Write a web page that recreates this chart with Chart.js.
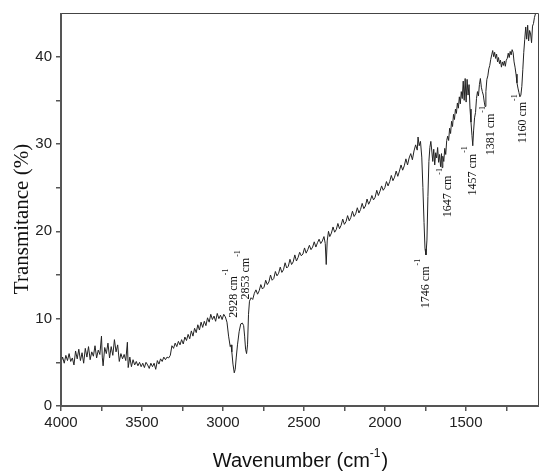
<!DOCTYPE html>
<html>
<head>
<meta charset="utf-8">
<script src="https://cdn.jsdelivr.net/npm/chart.js@4"></script>
<style>
  html, body { margin: 0; padding: 0; background: #fff; }
  #wrap { width: 550px; height: 476px; }
</style>
</head>
<body>
<div id="wrap"><canvas id="ftir"></canvas></div>
<script>
// --- spectrum (wavenumber cm-1 / transmittance %) ---
const wavenumbers = [
  4000,3990,3980,3970,3960,3950,3940,3930,3920,3910,3900,3890,3880,3870,3860,3850,3840,3830,3820,3810,
  3800,3790,3780,3770,3760,3750,3745,3740,3730,3720,3710,3700,3690,3680,3670,3660,3650,3640,3630,3620,
  3610,3600,3590,3585,3575,3565,3555,3545,3535,3525,3515,3505,3495,3485,3475,3465,3455,3445,3435,3425,
  3415,3405,3395,3385,3375,3365,3355,3345,3335,3325,3315,3305,3295,3285,3275,3265,3255,3245,3235,3225,
  3215,3205,3195,3185,3175,3165,3155,3145,3135,3125,3115,3105,3095,3085,3075,3065,3055,3045,3035,3025,
  3015,3005,2995,2985,2975,2965,2955,2950,2945,2938,2930,2924,2918,2910,2900,2890,2880,2872,2866,2860,
  2854,2848,2842,2836,2826,2816,2806,2796,2786,2776,2766,2756,2746,2736,2726,2716,2706,2696,2686,2676,
  2666,2656,2646,2636,2626,2616,2606,2596,2586,2576,2566,2556,2546,2536,2526,2516,2506,2496,2486,2476,
  2466,2456,2446,2436,2426,2416,2406,2396,2386,2376,2368,2362,2356,2348,2340,2330,2320,2310,2300,2290,
  2280,2270,2260,2250,2240,2230,2220,2210,2200,2190,2180,2170,2160,2150,2140,2130,2120,2110,2100,2090,
  2080,2070,2060,2050,2040,2030,2020,2010,2000,1990,1980,1970,1960,1950,1940,1930,1920,1910,1900,1890,
  1880,1870,1860,1850,1840,1830,1820,1810,1800,1795,1788,1780,1772,1765,1758,1752,1746,1740,1734,1728,
  1722,1716,1710,1704,1698,1692,1686,1680,1674,1668,1662,1656,1650,1647,1642,1636,1630,1624,1618,1612,
  1606,1600,1594,1588,1582,1576,1570,1564,1558,1552,1546,1540,1534,1528,1522,1516,1510,1504,1498,1492,
  1486,1480,1474,1468,1462,1457,1452,1446,1440,1434,1428,1422,1416,1410,1404,1398,1392,1386,1381,1376,
  1370,1364,1358,1352,1346,1340,1334,1328,1322,1316,1310,1304,1298,1292,1286,1280,1274,1268,1262,1256,
  1250,1244,1238,1232,1226,1220,1214,1208,1202,1196,1190,1184,1178,1172,1166,1160,1154,1148,1142,1136,
  1130,1124,1118,1112,1106,1100,1094,1088,1082,1076,1070,1064,1058,1050
];
const transmittance = [
  5.0,5.6,4.9,5.8,5.2,6.0,5.1,5.5,4.7,6.3,5.4,6.5,5.2,6.1,4.9,6.6,5.6,6.8,5.3,6.2,
  5.7,6.9,5.5,6.4,5.9,8.0,5.6,4.6,6.7,6.0,7.2,5.5,6.8,5.8,7.6,6.2,7.0,5.1,6.0,5.4,
  5.9,5.2,7.3,4.4,5.6,4.5,5.3,4.7,5.1,4.6,5.0,4.5,4.9,4.4,5.0,4.7,4.3,4.9,4.5,4.9,
  4.2,5.2,4.8,5.4,5.1,5.6,5.3,5.6,5.5,5.8,6.9,6.6,7.2,6.8,7.4,7.0,7.6,7.1,7.9,7.5,
  8.2,7.7,8.6,8.0,8.9,8.4,9.3,8.7,9.6,9.0,9.7,9.2,10.1,9.6,10.5,9.9,10.3,9.7,10.6,10.0,
  10.4,9.9,10.5,10.2,9.6,8.0,6.8,7.0,6.2,4.8,3.8,4.2,5.5,7.0,8.5,9.4,9.5,9.2,8.0,6.5,
  6.0,7.0,10.5,12.0,12.4,12.2,12.9,13.3,12.8,13.2,13.9,13.4,13.6,14.4,13.9,14.2,15.0,14.4,14.6,15.4,
  14.9,15.2,15.9,15.3,15.6,16.4,15.8,16.0,16.8,16.2,16.5,17.3,16.6,17.0,17.6,17.2,17.4,18.1,17.5,17.9,
  18.4,17.9,18.2,18.8,18.2,18.7,19.1,18.6,18.9,19.4,18.6,16.2,18.9,20.0,19.4,19.8,20.5,19.9,20.2,20.9,
  20.3,20.7,21.4,20.8,21.1,21.8,21.2,21.6,22.3,21.7,22.0,22.7,22.1,22.5,23.2,22.6,22.9,23.7,23.1,23.5,
  24.1,23.6,23.9,24.7,24.1,24.6,25.2,24.7,25.0,25.7,25.2,25.7,26.4,25.8,26.2,26.9,26.3,26.9,27.6,27.0,
  27.5,28.3,27.6,28.4,28.9,28.2,29.2,29.9,29.3,30.8,29.8,30.3,28.5,25.0,21.0,18.0,17.3,19.0,24.0,28.0,
  29.6,30.3,29.2,28.0,29.4,27.6,29.0,28.4,29.6,27.9,28.8,27.4,28.9,27.3,28.6,28.0,29.5,28.8,30.4,30.9,
  30.4,31.8,31.2,32.6,32.0,33.4,32.8,34.0,33.5,34.7,34.1,35.4,34.6,36.0,35.2,37.2,35.0,37.5,34.8,37.4,
  35.6,36.8,34.0,32.5,31.0,29.8,31.5,33.0,33.6,35.2,36.0,35.5,36.8,37.5,36.5,36.0,35.6,34.8,34.3,36.0,
  37.4,37.8,38.6,39.0,39.7,40.2,40.7,40.0,40.5,39.8,40.3,39.4,39.9,39.2,39.6,38.8,39.4,39.0,39.5,38.9,
  39.6,39.8,40.4,39.9,40.6,40.2,40.8,40.5,39.4,38.8,38.0,37.0,36.4,35.9,35.4,35.6,36.6,38.5,40.5,42.0,
  43.4,42.0,43.6,41.8,43.0,42.6,41.6,43.5,43.8,44.5,44.9,45.5,46.5,47.0
];

// axis ticks
const xTicks = [4000,3750,3500,3250,3000,2750,2500,2250,2000,1750,1500,1250];
const xLabelled = [4000,3500,3000,2500,2000,1500];
const yTicks = [0,5,10,15,20,25,30,35,40];
const yLabelled = [0,10,20,30,40];

// peak labels: text, x position (cm-1), value where text starts
const peakNames = ["2928 cm", "2853 cm", "1746 cm", "1647 cm", "1457 cm", "1381 cm", "1160 cm"];
const peakX = [2936, 2861, 1751, 1616, 1460, 1350, 1150];
const peakY = [10.1, 12.2, 11.2, 21.6, 24.1, 28.7, 30.1];

const points = wavenumbers.map((w, i) => ({ x: w, y: transmittance[i] }));

const serif = "'Liberation Serif', 'Times New Roman', serif";
const sans = "'Liberation Sans', Arial, sans-serif";

const decor = {
  id: "decor",
  afterDraw(chart) {
    const { ctx, chartArea: a, scales } = chart;
    ctx.save();
    // frame
    ctx.strokeStyle = "#444";
    ctx.lineWidth = 1;
    ctx.beginPath();
    ctx.moveTo(a.left, a.top + 0.5);
    ctx.lineTo(a.right - 0.5, a.top + 0.5);
    ctx.lineTo(a.right - 0.5, a.bottom);
    ctx.stroke();
    ctx.strokeStyle = "#555";
    ctx.lineWidth = 2;
    ctx.beginPath();
    ctx.moveTo(a.left, a.top);
    ctx.lineTo(a.left, a.bottom);
    ctx.lineTo(a.right, a.bottom);
    ctx.stroke();

    // peak labels
    ctx.fillStyle = "#111";
    peakNames.forEach((name, i) => {
      const px = scales.x.getPixelForValue(peakX[i]) + 4;
      const py = scales.y.getPixelForValue(peakY[i]);
      ctx.save();
      ctx.translate(px, py);
      ctx.rotate(-Math.PI / 2);
      ctx.font = "12px " + serif;
      ctx.fillText(name, 0, 0);
      const w = ctx.measureText(name).width;
      ctx.font = "8px " + serif;
      ctx.fillText("-1", w + 1, -9);
      ctx.restore();
    });

    // axis titles
    ctx.fillStyle = "#111";
    const t1 = "Wavenumber (cm", t2 = ")";
    ctx.font = "20px " + sans;
    const w1 = ctx.measureText(t1).width;
    const w2 = ctx.measureText(t2).width;
    ctx.font = "12px " + sans;
    const ws = ctx.measureText("-1").width;
    const start = 300 - (w1 + ws + w2) / 2;
    ctx.font = "20px " + sans;
    ctx.fillText(t1, start, 467);
    ctx.fillText(t2, start + w1 + ws + 1, 467);
    ctx.font = "12px " + sans;
    ctx.fillText("-1", start + w1, 457);

    ctx.save();
    ctx.translate(28, 219);
    ctx.rotate(-Math.PI / 2);
    ctx.textAlign = "center";
    ctx.font = "21px " + serif;
    ctx.fillText("Transmitance (%)", 0, 0);
    ctx.restore();
    ctx.restore();
  }
};

new Chart(document.getElementById("ftir"), {
  type: "line",
  data: {
    datasets: [{
      data: points,
      borderColor: "#222",
      borderWidth: 1,
      pointRadius: 0,
      tension: 0
    }]
  },
  options: {
    responsive: true,
    maintainAspectRatio: false,
    animation: false,
    layout: { padding: { top: 9, right: 11, left: 0, bottom: 0 } },
    plugins: { legend: { display: false }, tooltip: { enabled: false } },
    scales: {
      x: {
        type: "linear",
        reverse: true,
        min: 1048,
        max: 4000,
        afterBuildTicks: s => { s.ticks = xTicks.map(v => ({ value: v })); },
        afterFit: s => { s.height = 70; },
        border: { display: false },
        grid: { drawOnChartArea: false, tickLength: 5, color: "#555", lineWidth: 1.5 },
        ticks: {
          color: "#222",
          font: { size: 15, family: sans },
          padding: 3,
          maxRotation: 0,
          autoSkip: false,
          callback: v => xLabelled.includes(v) ? String(v) : ""
        }
      },
      y: {
        min: 0,
        max: 45,
        afterBuildTicks: s => { s.ticks = yTicks.map(v => ({ value: v })); },
        afterFit: s => { s.width = 61; },
        border: { display: false },
        grid: { drawOnChartArea: false, tickLength: 5, color: "#555", lineWidth: 1.5 },
        ticks: {
          color: "#222",
          font: { size: 15, family: sans },
          padding: 4,
          autoSkip: false,
          callback: v => yLabelled.includes(v) ? String(v) : ""
        }
      }
    }
  },
  plugins: [decor]
});
</script>
</body>
</html>
